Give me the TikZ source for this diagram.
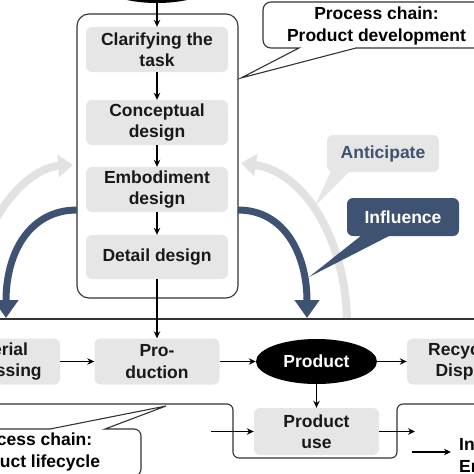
\documentclass[tikz,border=0pt]{standalone}
\usepackage{fontspec}
\setmainfont{Liberation Sans}
\usetikzlibrary{arrows.meta,shapes.geometric}
\definecolor{boxgray}{HTML}{E6E6E6}
\definecolor{arcgray}{HTML}{E2E2E2}
\definecolor{navy}{HTML}{3E5272}
\definecolor{linegray}{HTML}{333333}
\begin{document}
\begin{tikzpicture}[x=1pt,y=-1pt,
  font=\fontsize{17.5}{21.5}\selectfont\bfseries,
  stepbox/.style={fill=boxgray,rounded corners=6pt,align=center,inner sep=0pt,text=black!90},
  flow/.style={-{Stealth[length=7pt,width=6.5pt]},line width=1.1pt,black},
  outline/.style={draw=linegray,line width=1.1pt},
  navyarc/.style={navy,line width=7pt,-{Triangle[length=18pt,width=24pt]}},
  grayarc/.style={arcgray,line width=8pt,-{Triangle[length=15pt,width=22pt]}},
  blackoval/.style={ellipse,fill=black,text=white,inner sep=0pt},
]
\useasboundingbox (0,0) rectangle (474,474);
\clip (0,0) rectangle (474,474);

% light gray "anticipate" arcs
\coordinate (gl0) at (-6,222);
\coordinate (gl1) at (73,165);
\draw[grayarc] (gl0) .. controls (14,186) and (40,167) .. (gl1);
\coordinate (gr0) at (347,319);
\coordinate (gr1) at (241,163);
\draw[grayarc] (gr0) .. controls (345,240) and (305,172) .. (gr1);

% product development chain
\node[outline,rounded corners=12pt,minimum width=161pt,minimum height=284pt,inner sep=0pt] (dev) at (157.5,156) {};
\node[blackoval,minimum width=122pt,minimum height=46pt] (start) at (157,-20) {};
\node[stepbox,minimum width=142pt,minimum height=45pt] (s1) at (157,49.5) {Clarifying the\\task};
\node[stepbox,minimum width=142pt,minimum height=45pt] (s2) at (157,122.5) {Conceptual\\design};
\node[stepbox,minimum width=142pt,minimum height=45pt] (s3) at (157,189.5) {Embodiment\\design};
\node[stepbox,minimum width=142pt,minimum height=44pt] (s4) at (157,257) {Detail design};

% navy "influence" arcs
\coordinate (nl0) at (77,210);
\coordinate (nl1) at (6,318);
\draw[navyarc] (nl0) .. controls (30,210) and (6,252) .. (nl1);
\coordinate (nr0) at (238,210);
\coordinate (nr1) at (307,318);
\draw[navyarc] (nr0) .. controls (285,210) and (307,255) .. (nr1);

% callouts
\fill[boxgray] (331,171) -- (350,171) -- (315,206) -- cycle;
\node[stepbox,minimum width=112pt,minimum height=37pt,text=navy] (ant) at (383,153.5) {Anticipate};
\fill[navy] (362,235) -- (391,235) -- (309,277) -- cycle;
\node[fill=navy,rounded corners=6pt,minimum width=112pt,minimum height=38pt,text=white,inner sep=0pt] (inf) at (403,217) {Influence};

\draw[outline,fill=white] (490,48) -- (356,48) -- (241,78) -- (299,48) [rounded corners=8pt] -- (263,48) -- (263,2) -- (490,2);
\node[align=center] (devlabel) at (376.5,26) {Process chain:\\Product development};

% product lifecycle frame
\coordinate (lt0) at (-5,319);
\coordinate (lt1) at (480,319);
\draw[outline] (lt0) -- (lt1);
\draw[outline,rounded corners=6pt] (-5,404) -- (233,404) -- (233,458) -- (397,458) -- (397,404) -- (480,404);

\draw[outline,fill=white] (-10,429) -- (50,429) -- (166,406) -- (105,429) [rounded corners=7pt] -- (141,429) -- (141,476) -- (-10,476);
\node[align=center] (lclabel) at (30,452) {Process chain:\\Product lifecycle};

% lifecycle nodes
\node[stepbox,minimum width=130pt,minimum height=46pt] (mat) at (-5,361.5) {Material\\processing};
\node[stepbox,minimum width=125pt,minimum height=46pt] (prod) at (157,361.5) {Pro-\\duction};
\node[blackoval,minimum width=121pt,minimum height=45pt] (pr) at (316.5,361.5) {Product};
\node[stepbox,minimum width=130pt,minimum height=46pt] (rec) at (472,361.5) {Recycling/\\Disposal};
\node[stepbox,minimum width=125pt,minimum height=47pt] (use) at (316.5,431.5) {Product\\use};
\node[align=left,anchor=west,inner sep=0pt] (env) at (459,455) {Interaction with\\Environment};

% connectors
\draw[flow] (start.south) -- (s1.north);
\draw[flow] (s1) -- (s2);
\draw[flow] (s2) -- (s3);
\draw[flow] (s3) -- (s4);
\draw[flow] (s4) -- (prod);
\draw[flow] (mat) -- (prod);
\draw[flow] (prod) -- (pr);
\draw[flow] (pr) -- (rec);
\draw[flow] (pr) -- (use);
\coordinate (uin) at (211,431.5);
\draw[flow] (uin) -- (use.west);
\coordinate (uout) at (415,431.5);
\draw[flow] (use.east) -- (uout);
\coordinate (e0) at (412,452);
\coordinate (e1) at (451,452);
\draw[flow] (e0) -- (e1);
\end{tikzpicture}
\end{document}
